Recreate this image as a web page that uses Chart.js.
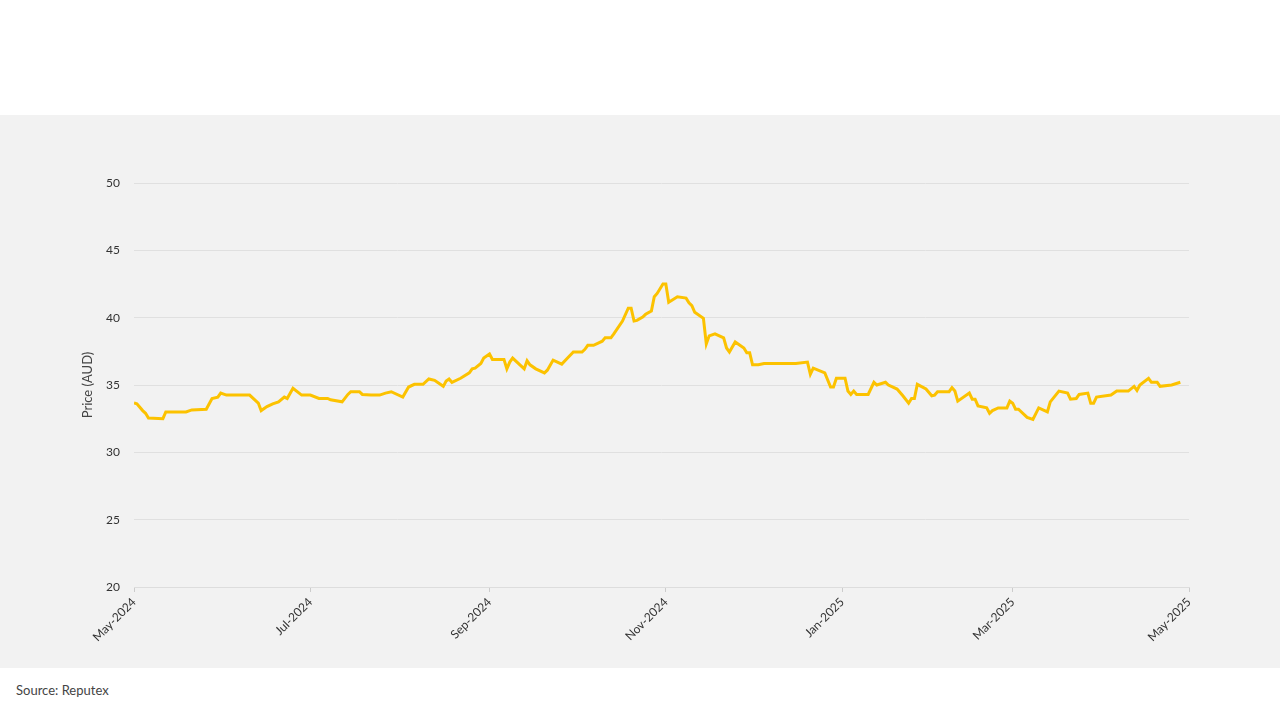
<!DOCTYPE html>
<html><head><meta charset="utf-8">
<script src="https://cdn.jsdelivr.net/npm/chart.js@4"></script>
<style>
body{margin:0;width:1280px;height:720px;background:#fff;font-family:Lato,"Noto Sans",sans-serif;position:relative;overflow:hidden}
#panel{position:absolute;left:0;top:115px;width:1280px;height:553px;background:#f2f2f2}
#src{position:absolute;left:16px;top:682px;font-size:13px;color:#444}
</style></head><body>
<div id="panel"><canvas id="c" width="1280" height="553"></canvas></div>
<div id="src">Source: Reputex</div>
<script>
const dayOffsets=[0,1,3,4,5,10,11,18,20,25,27,29,30,32,40,43,44,46,48,50,52,53,55,58,61,64,67,68,72,74,75,78,79,82,85,87,89,93,95,97,100,102,104,107,108,109,110,113,116,117,118,120,121,123,124,128,129,130,131,135,136,137,139,142,143,145,148,150,152,155,156,157,159,162,163,165,166,169,171,172,173,174,176,177,179,180,181,183,184,185,188,191,192,193,194,197,198,199,201,204,205,206,208,211,212,213,214,216,218,229,233,234,235,239,241,242,243,246,247,248,249,250,254,256,257,260,261,262,264,266,268,269,270,271,274,276,277,278,282,283,284,285,289,290,291,292,295,296,297,299,302,303,304,305,306,309,311,313,316,317,320,323,324,326,327,330,331,332,333,338,340,344,346,347,348,351,352,354,355,359,362];
const prices=[33.66,33.6,33.1,32.9,32.55,32.5,33.0,33.0,33.15,33.2,34.0,34.1,34.4,34.25,34.25,33.66,33.1,33.4,33.6,33.75,34.1,34.0,34.75,34.25,34.25,34.0,34.0,33.9,33.75,34.3,34.5,34.5,34.3,34.25,34.25,34.4,34.5,34.1,34.85,35.05,35.05,35.45,35.35,34.9,35.3,35.45,35.2,35.5,35.9,36.2,36.25,36.6,37.0,37.3,36.9,36.9,36.2,36.7,37.0,36.2,36.8,36.5,36.2,35.9,36.1,36.85,36.55,37.0,37.45,37.45,37.65,37.95,37.95,38.25,38.5,38.5,38.8,39.75,40.7,40.7,39.75,39.8,40.05,40.25,40.5,41.55,41.8,42.5,42.5,41.15,41.55,41.45,41.1,40.9,40.4,39.95,38.05,38.65,38.8,38.5,37.75,37.45,38.2,37.75,37.4,37.4,36.5,36.5,36.6,36.6,36.7,35.8,36.25,35.9,34.85,34.85,35.5,35.5,34.55,34.3,34.55,34.3,34.3,35.2,35.0,35.2,35.0,34.9,34.7,34.2,33.65,34.0,34.0,35.05,34.7,34.2,34.25,34.5,34.5,34.8,34.55,33.8,34.4,33.95,33.95,33.45,33.3,32.9,33.1,33.3,33.3,33.8,33.65,33.2,33.2,32.6,32.45,33.3,33.0,33.75,34.55,34.4,33.95,34.0,34.3,34.4,33.65,33.65,34.1,34.25,34.55,34.55,34.9,34.6,35.0,35.5,35.2,35.2,34.9,35.0,35.2];
const tickDays=[0,61,123,184,245,304,365];
const tickLabels=["May-2024","Jul-2024","Sep-2024","Nov-2024","Jan-2025","Mar-2025","May-2025"];
const yTicks=[20,25,30,35,40,45,50];
const F="Lato, 'Noto Sans', sans-serif";
new Chart(document.getElementById('c'),{
 type:'line',
 data:{datasets:[{data:dayOffsets.map((d,i)=>({x:d,y:prices[i]})),borderColor:'#fcc200',borderWidth:3,pointRadius:0,tension:0,fill:false}]},
 options:{responsive:false,animation:false,
  layout:{padding:{left:80,right:91,top:68,bottom:0}},
  plugins:{legend:{display:false},tooltip:{enabled:false}},
  scales:{
   x:{type:'linear',min:0,max:365,
    afterBuildTicks:s=>{s.ticks=tickDays.map(v=>({value:v}));},
    afterFit:s=>{s.height=81;},
    ticks:{autoSkip:false,maxRotation:45,minRotation:45,color:'#333',font:{family:F,size:12},
      callback:(v)=>tickLabels[tickDays.indexOf(v)]},
    grid:{display:true,drawOnChartArea:false,drawTicks:true,tickLength:5,color:'#ccc'},
    border:{color:'#ddd'}},
   y:{min:20,max:50,
    afterBuildTicks:s=>{s.ticks=yTicks.map(v=>({value:v}));},
    afterFit:s=>{s.width=54;},
    ticks:{color:'#333',font:{family:F,size:12},padding:14},
    grid:{color:'#e0e0e0',drawTicks:false},
    border:{display:false},
    title:{display:true,text:'Price (AUD)',color:'#444',font:{family:F,size:13},padding:{top:0,bottom:0}}}
  }}
});
</script></body></html>
